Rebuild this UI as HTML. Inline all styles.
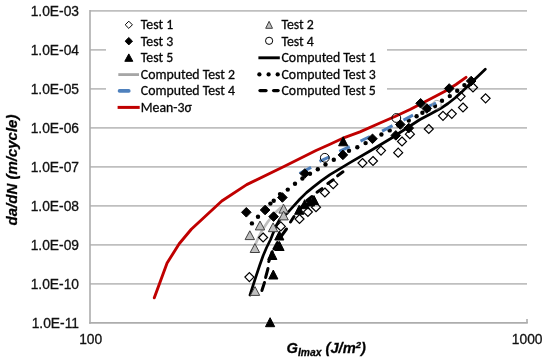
<!DOCTYPE html><html><head><meta charset="utf-8"><title>da/dN vs GImax</title><style>html,body{margin:0;padding:0;background:#fff;width:550px;height:362px;overflow:hidden}svg{display:block}text{font-family:"Liberation Sans",Arial,sans-serif;stroke:#111;stroke-width:0.3px}.lg{font-family:Carlito,"Liberation Sans",sans-serif;font-size:13.8px;fill:#000}</style></head><body>
<svg width="550" height="362" viewBox="0 0 550 362">
<line x1="90" y1="10.90" x2="527" y2="10.90" stroke="#BFBFBF" stroke-width="1.6"/>
<line x1="90" y1="49.90" x2="527" y2="49.90" stroke="#BFBFBF" stroke-width="1.6"/>
<line x1="90" y1="88.90" x2="527" y2="88.90" stroke="#BFBFBF" stroke-width="1.6"/>
<line x1="90" y1="127.90" x2="527" y2="127.90" stroke="#BFBFBF" stroke-width="1.6"/>
<line x1="90" y1="166.90" x2="527" y2="166.90" stroke="#BFBFBF" stroke-width="1.6"/>
<line x1="90" y1="205.90" x2="527" y2="205.90" stroke="#BFBFBF" stroke-width="1.6"/>
<line x1="90" y1="244.90" x2="527" y2="244.90" stroke="#BFBFBF" stroke-width="1.6"/>
<line x1="90" y1="283.90" x2="527" y2="283.90" stroke="#BFBFBF" stroke-width="1.6"/>
<line x1="90" y1="10.10" x2="90" y2="323.70" stroke="#ADADAD" stroke-width="1.6"/>
<line x1="89.2" y1="322.90" x2="527.8" y2="322.90" stroke="#ADADAD" stroke-width="1.6"/>
<line x1="527" y1="318.90" x2="527" y2="322.90" stroke="#ADADAD" stroke-width="1.6"/>
<text x="79" y="15.8" text-anchor="end" font-size="13.8" fill="#111">1.0E-03</text>
<text x="79" y="54.8" text-anchor="end" font-size="13.8" fill="#111">1.0E-04</text>
<text x="79" y="93.8" text-anchor="end" font-size="13.8" fill="#111">1.0E-05</text>
<text x="79" y="132.8" text-anchor="end" font-size="13.8" fill="#111">1.0E-06</text>
<text x="79" y="171.8" text-anchor="end" font-size="13.8" fill="#111">1.0E-07</text>
<text x="79" y="210.8" text-anchor="end" font-size="13.8" fill="#111">1.0E-08</text>
<text x="79" y="249.8" text-anchor="end" font-size="13.8" fill="#111">1.0E-09</text>
<text x="79" y="288.8" text-anchor="end" font-size="13.8" fill="#111">1.0E-10</text>
<text x="79" y="327.8" text-anchor="end" font-size="13.8" fill="#111">1.0E-11</text>
<text x="90.7" y="344" text-anchor="middle" font-size="13.8" fill="#111">100</text>
<text x="527.2" y="344" text-anchor="middle" font-size="13.8" fill="#111">1000</text>
<text transform="translate(17,170) rotate(-90)" text-anchor="middle" font-size="15" font-weight="bold" font-style="italic" fill="#000">da/dN (m/cycle)</text>
<text x="286.5" y="352.8" font-size="14.7" font-weight="bold" font-style="italic" fill="#000">G<tspan font-size="10.3" dy="3">Imax</tspan><tspan dy="-3" font-size="14.7"> (J/m</tspan><tspan font-size="9.5" dy="-5">2</tspan><tspan font-size="14.7" dy="5">)</tspan></text>
<rect x="106" y="13" width="281" height="104" fill="#fff"/>
<path d="M128.8 21.2L132.4 24.8L128.8 28.4L125.2 24.8Z" fill="#fff" stroke="#000" stroke-width="1"/>
<text class="lg" x="140.8" y="29.4" textLength="32.34" lengthAdjust="spacingAndGlyphs">Test 1</text>
<path d="M269.1 21.3L272.5 28.3L265.7 28.3Z" fill="#BFBFBF" stroke="#404040" stroke-width="1" stroke-linejoin="miter"/>
<text class="lg" x="281.5" y="29.4" textLength="32.34" lengthAdjust="spacingAndGlyphs">Test 2</text>
<path d="M128.8 37.5L132.5 41.2L128.8 44.9L125.1 41.2Z" fill="#000" stroke="#000" stroke-width="1"/>
<text class="lg" x="140.8" y="45.800000000000004" textLength="32.34" lengthAdjust="spacingAndGlyphs">Test 3</text>
<circle cx="269.1" cy="40.8" r="3.6" fill="#fff" stroke="#000" stroke-width="1"/>
<text class="lg" x="281.5" y="45.800000000000004" textLength="32.34" lengthAdjust="spacingAndGlyphs">Test 4</text>
<path d="M128.8 53.9L132.8 61.3L124.8 61.3Z" fill="#000" stroke="#000" stroke-width="1" stroke-linejoin="miter"/>
<text class="lg" x="140.8" y="62.2" textLength="32.34" lengthAdjust="spacingAndGlyphs">Test 5</text>
<line x1="258.4" y1="57.800000000000004" x2="279.8" y2="57.800000000000004" stroke="#000" stroke-width="2.9"/>
<text class="lg" x="281.5" y="62.2" textLength="94.2" lengthAdjust="spacingAndGlyphs">Computed Test 1</text>
<line x1="118.3" y1="74.6" x2="139" y2="74.6" stroke="#A6A6A6" stroke-width="2.8"/>
<text class="lg" x="140.8" y="78.69999999999999" textLength="94.2" lengthAdjust="spacingAndGlyphs">Computed Test 2</text>
<circle cx="259.4" cy="74.39999999999999" r="2.15" fill="#000"/>
<circle cx="268.6" cy="74.39999999999999" r="2.15" fill="#000"/>
<circle cx="277.7" cy="74.39999999999999" r="2.15" fill="#000"/>
<text class="lg" x="281.5" y="78.69999999999999" textLength="94.2" lengthAdjust="spacingAndGlyphs">Computed Test 3</text>
<line x1="119.5" y1="90.9" x2="128.8" y2="90.9" stroke="#4F81BD" stroke-width="3.6" stroke-linecap="round"/>
<text class="lg" x="140.8" y="95.1" textLength="94.2" lengthAdjust="spacingAndGlyphs">Computed Test 4</text>
<line x1="260" y1="90.6" x2="266" y2="90.6" stroke="#000" stroke-width="3.3" stroke-linecap="round"/>
<line x1="273.6" y1="90.6" x2="278.1" y2="90.6" stroke="#000" stroke-width="3.3" stroke-linecap="round"/>
<text class="lg" x="281.5" y="95.1" textLength="94.2" lengthAdjust="spacingAndGlyphs">Computed Test 5</text>
<line x1="117.6" y1="107.4" x2="139.7" y2="107.4" stroke="#C00000" stroke-width="3"/>
<text class="lg" x="140.8" y="111.5" textLength="51.08" lengthAdjust="spacingAndGlyphs">Mean-3σ</text>
<polyline points="250.0,295.0 255.8,277.0 259.8,265.0 263.2,255.5 266.6,247.5 270.6,239.5 276.0,226.0 280.0,219.0 286.6,213.8 293.3,206.4 300.0,199.0 306.5,192.6 313.2,187.1 321.5,180.6 330.0,174.6 338.0,169.8 350.0,162.6 370.0,151.0 390.0,139.0 410.0,126.0 420.0,119.5 430.0,114.2 440.0,108.8 448.0,103.5 455.0,98.0 462.0,91.8 470.0,83.8 478.0,76.3 485.3,69.2" fill="none" stroke="#000" stroke-width="2.7" stroke-linejoin="round" stroke-linecap="round"/>
<polyline points="254.0,247.5 258.0,238.5 262.0,230.5 268.0,221.5 275.0,213.0 283.5,205.0" fill="none" stroke="#BFBFBF" stroke-width="2.7" stroke-linejoin="round"/>
<circle cx="251.9" cy="223.4" r="2.2" fill="#000"/>
<circle cx="258" cy="216.8" r="2.2" fill="#000"/>
<circle cx="264.2" cy="210.2" r="2.2" fill="#000"/>
<circle cx="270.4" cy="203.6" r="2.2" fill="#000"/>
<circle cx="273.7" cy="200.7" r="2.2" fill="#000"/>
<circle cx="280" cy="194.1" r="2.2" fill="#000"/>
<circle cx="287.8" cy="189.6" r="2.2" fill="#000"/>
<circle cx="295" cy="183.8" r="2.2" fill="#000"/>
<circle cx="302.4" cy="178.5" r="2.2" fill="#000"/>
<circle cx="310" cy="173.8" r="2.2" fill="#000"/>
<circle cx="317.8" cy="169.2" r="2.2" fill="#000"/>
<circle cx="325.5" cy="164.5" r="2.2" fill="#000"/>
<circle cx="333.8" cy="159.7" r="2.2" fill="#000"/>
<circle cx="341.5" cy="155" r="2.2" fill="#000"/>
<circle cx="349" cy="150.7" r="2.2" fill="#000"/>
<circle cx="357.3" cy="147.3" r="2.2" fill="#000"/>
<circle cx="365.6" cy="143.1" r="2.2" fill="#000"/>
<circle cx="373.5" cy="138.8" r="2.2" fill="#000"/>
<circle cx="381.4" cy="134.5" r="2.2" fill="#000"/>
<circle cx="389.7" cy="130.4" r="2.2" fill="#000"/>
<circle cx="398.5" cy="125.6" r="2.2" fill="#000"/>
<circle cx="408.8" cy="120.5" r="2.2" fill="#000"/>
<circle cx="416.6" cy="116.2" r="2.2" fill="#000"/>
<circle cx="422.4" cy="112.8" r="2.2" fill="#000"/>
<circle cx="428.7" cy="109.5" r="2.2" fill="#000"/>
<circle cx="435" cy="106" r="2.2" fill="#000"/>
<circle cx="442" cy="100.8" r="2.2" fill="#000"/>
<circle cx="449.8" cy="96.1" r="2.2" fill="#000"/>
<circle cx="457.2" cy="90.8" r="2.2" fill="#000"/>
<circle cx="464.4" cy="85.1" r="2.2" fill="#000"/>
<circle cx="471" cy="80.5" r="2.2" fill="#000"/>
<line x1="299.5" y1="173.5" x2="311.1" y2="167.4" stroke="#4F81BD" stroke-width="3"/>
<line x1="319.5" y1="161.3" x2="329.5" y2="156.8" stroke="#4F81BD" stroke-width="3"/>
<line x1="339.3" y1="151.4" x2="349.7" y2="146.6" stroke="#4F81BD" stroke-width="3"/>
<line x1="360.5" y1="141.2" x2="370" y2="136.5" stroke="#4F81BD" stroke-width="3"/>
<line x1="382.1" y1="131.1" x2="392.5" y2="125.6" stroke="#4F81BD" stroke-width="3"/>
<line x1="403.5" y1="120.2" x2="413" y2="115.2" stroke="#4F81BD" stroke-width="3"/>
<line x1="425" y1="107.8" x2="436" y2="103" stroke="#4F81BD" stroke-width="3"/>
<line x1="261.9" y1="290.5" x2="264.5" y2="282.5" stroke="#000" stroke-width="3" stroke-linecap="round"/>
<line x1="265.6" y1="277.5" x2="268" y2="268.5" stroke="#000" stroke-width="3" stroke-linecap="round"/>
<line x1="268.8" y1="261.5" x2="272" y2="252" stroke="#000" stroke-width="3" stroke-linecap="round"/>
<line x1="274" y1="249" x2="277.5" y2="242.5" stroke="#000" stroke-width="3" stroke-linecap="round"/>
<line x1="281" y1="236.5" x2="286.5" y2="229" stroke="#000" stroke-width="3" stroke-linecap="round"/>
<line x1="290.5" y1="222" x2="294" y2="216.5" stroke="#000" stroke-width="3" stroke-linecap="round"/>
<line x1="298" y1="211" x2="303" y2="205.5" stroke="#000" stroke-width="3" stroke-linecap="round"/>
<line x1="307" y1="200.5" x2="312" y2="196.5" stroke="#000" stroke-width="3" stroke-linecap="round"/>
<line x1="317" y1="192.2" x2="322" y2="188.6" stroke="#000" stroke-width="3" stroke-linecap="round"/>
<line x1="327.8" y1="183.4" x2="333.2" y2="179.8" stroke="#000" stroke-width="3" stroke-linecap="round"/>
<line x1="337.6" y1="175.8" x2="343" y2="171.8" stroke="#000" stroke-width="3" stroke-linecap="round"/>
<polyline points="154.3,297.8 167.1,263.0 179.2,243.8 191.3,229.2 221.8,201.0 246.7,184.6 285.0,166.0 305.0,156.0 316.0,150.5 330.0,144.2 345.0,137.3 360.0,131.8 380.0,123.0 395.0,116.5 410.0,109.5 425.0,101.7 436.0,96.0 446.0,90.7 456.0,84.5 466.0,77.4" fill="none" stroke="#C00000" stroke-width="2.9" stroke-linejoin="round" stroke-linecap="round"/>
<path d="M249.4 272.6L253.9 277.1L249.4 281.6L244.9 277.1Z" fill="none" stroke="#000" stroke-width="1.2"/>
<path d="M263.1 233.0L267.6 237.5L263.1 242.0L258.6 237.5Z" fill="none" stroke="#000" stroke-width="1.2"/>
<path d="M280.8 221.9L285.3 226.4L280.8 230.9L276.3 226.4Z" fill="none" stroke="#000" stroke-width="1.2"/>
<path d="M299.5 214.5L304.0 219.0L299.5 223.5L295.0 219.0Z" fill="none" stroke="#000" stroke-width="1.2"/>
<path d="M307.9 207.5L312.4 212.0L307.9 216.5L303.4 212.0Z" fill="none" stroke="#000" stroke-width="1.2"/>
<path d="M316.0 202.7L320.5 207.2L316.0 211.7L311.5 207.2Z" fill="none" stroke="#000" stroke-width="1.2"/>
<path d="M324.9 188.0L329.4 192.5L324.9 197.0L320.4 192.5Z" fill="none" stroke="#000" stroke-width="1.2"/>
<path d="M333.2 179.7L337.7 184.2L333.2 188.7L328.7 184.2Z" fill="none" stroke="#000" stroke-width="1.2"/>
<path d="M362.5 158.5L367.0 163.0L362.5 167.5L358.0 163.0Z" fill="none" stroke="#000" stroke-width="1.2"/>
<path d="M373.0 156.5L377.5 161.0L373.0 165.5L368.5 161.0Z" fill="none" stroke="#000" stroke-width="1.2"/>
<path d="M381.0 146.1L385.5 150.6L381.0 155.1L376.5 150.6Z" fill="none" stroke="#000" stroke-width="1.2"/>
<path d="M398.2 148.2L402.7 152.7L398.2 157.2L393.7 152.7Z" fill="none" stroke="#000" stroke-width="1.2"/>
<path d="M402.0 137.0L406.5 141.5L402.0 146.0L397.5 141.5Z" fill="none" stroke="#000" stroke-width="1.2"/>
<path d="M409.9 129.7L414.4 134.2L409.9 138.7L405.4 134.2Z" fill="none" stroke="#000" stroke-width="1.2"/>
<path d="M428.8 124.5L433.3 129.0L428.8 133.5L424.3 129.0Z" fill="none" stroke="#000" stroke-width="1.2"/>
<path d="M443.0 111.3L447.5 115.8L443.0 120.3L438.5 115.8Z" fill="none" stroke="#000" stroke-width="1.2"/>
<path d="M451.8 109.3L456.3 113.8L451.8 118.3L447.3 113.8Z" fill="none" stroke="#000" stroke-width="1.2"/>
<path d="M460.6 91.8L465.1 96.3L460.6 100.8L456.1 96.3Z" fill="none" stroke="#000" stroke-width="1.2"/>
<path d="M463.0 103.0L467.5 107.5L463.0 112.0L458.5 107.5Z" fill="none" stroke="#000" stroke-width="1.2"/>
<path d="M473.0 83.0L477.5 87.5L473.0 92.0L468.5 87.5Z" fill="none" stroke="#000" stroke-width="1.2"/>
<path d="M485.6 93.8L490.1 98.3L485.6 102.8L481.1 98.3Z" fill="none" stroke="#000" stroke-width="1.2"/>
<path d="M260.0 221.1L264.7 229.9L255.3 229.9Z" fill="#BFBFBF" stroke="#404040" stroke-width="1" stroke-linejoin="miter"/>
<path d="M249.8 230.8L254.5 239.6L245.1 239.6Z" fill="#BFBFBF" stroke="#404040" stroke-width="1" stroke-linejoin="miter"/>
<path d="M254.9 243.7L259.6 252.5L250.2 252.5Z" fill="#BFBFBF" stroke="#404040" stroke-width="1" stroke-linejoin="miter"/>
<path d="M255.0 286.6L259.7 295.4L250.3 295.4Z" fill="#BFBFBF" stroke="#404040" stroke-width="1" stroke-linejoin="miter"/>
<path d="M273.1 222.9L277.8 231.7L268.4 231.7Z" fill="#BFBFBF" stroke="#404040" stroke-width="1" stroke-linejoin="miter"/>
<path d="M283.6 204.3L288.3 213.1L278.9 213.1Z" fill="#BFBFBF" stroke="#404040" stroke-width="1" stroke-linejoin="miter"/>
<path d="M283.6 211.1L288.3 219.9L278.9 219.9Z" fill="#BFBFBF" stroke="#404040" stroke-width="1" stroke-linejoin="miter"/>
<path d="M246.3 207.5L251.1 212.3L246.3 217.1L241.5 212.3Z" fill="#000" stroke="#000" stroke-width="1"/>
<path d="M265.1 205.2L269.9 210.0L265.1 214.8L260.3 210.0Z" fill="#000" stroke="#000" stroke-width="1"/>
<path d="M273.6 211.8L278.4 216.6L273.6 221.4L268.8 216.6Z" fill="#000" stroke="#000" stroke-width="1"/>
<path d="M282.4 192.7L287.2 197.5L282.4 202.3L277.6 197.5Z" fill="#000" stroke="#000" stroke-width="1"/>
<path d="M304.8 168.7L309.6 173.5L304.8 178.3L300.0 173.5Z" fill="#000" stroke="#000" stroke-width="1"/>
<path d="M342.9 150.1L347.7 154.9L342.9 159.7L338.1 154.9Z" fill="#000" stroke="#000" stroke-width="1"/>
<path d="M372.5 134.0L377.3 138.8L372.5 143.6L367.7 138.8Z" fill="#000" stroke="#000" stroke-width="1"/>
<path d="M395.8 130.6L400.6 135.4L395.8 140.2L391.0 135.4Z" fill="#000" stroke="#000" stroke-width="1"/>
<path d="M400.3 119.7L405.1 124.5L400.3 129.3L395.5 124.5Z" fill="#000" stroke="#000" stroke-width="1"/>
<path d="M408.8 123.3L413.6 128.1L408.8 132.9L404.0 128.1Z" fill="#000" stroke="#000" stroke-width="1"/>
<path d="M420.6 98.5L425.4 103.3L420.6 108.1L415.8 103.3Z" fill="#000" stroke="#000" stroke-width="1"/>
<path d="M426.8 103.7L431.6 108.5L426.8 113.3L422.0 108.5Z" fill="#000" stroke="#000" stroke-width="1"/>
<path d="M449.2 83.7L454.0 88.5L449.2 93.3L444.4 88.5Z" fill="#000" stroke="#000" stroke-width="1"/>
<path d="M471.2 76.2L476.0 81.0L471.2 85.8L466.4 81.0Z" fill="#000" stroke="#000" stroke-width="1"/>
<circle cx="324.8" cy="157.8" r="4.4" fill="none" stroke="#000" stroke-width="1"/>
<circle cx="396.3" cy="118.0" r="4.4" fill="none" stroke="#000" stroke-width="1"/>
<circle cx="436.8" cy="104.8" r="4.4" fill="none" stroke="#999" stroke-width="0.8"/>
<path d="M343.2 136.8L347.8 145.8L338.6 145.8Z" fill="#000" stroke="#000" stroke-width="1" stroke-linejoin="miter"/>
<path d="M270.1 317.7L274.7 326.7L265.5 326.7Z" fill="#000" stroke="#000" stroke-width="1" stroke-linejoin="miter"/>
<path d="M273.3 270.0L277.9 279.0L268.7 279.0Z" fill="#000" stroke="#000" stroke-width="1" stroke-linejoin="miter"/>
<path d="M272.3 250.5L276.9 259.5L267.7 259.5Z" fill="#000" stroke="#000" stroke-width="1" stroke-linejoin="miter"/>
<path d="M279.5 241.5L284.1 250.5L274.9 250.5Z" fill="#000" stroke="#000" stroke-width="1" stroke-linejoin="miter"/>
<path d="M279.3 231.0L283.9 240.0L274.7 240.0Z" fill="#000" stroke="#000" stroke-width="1" stroke-linejoin="miter"/>
<path d="M299.2 205.3L303.8 214.3L294.6 214.3Z" fill="#000" stroke="#000" stroke-width="1" stroke-linejoin="miter"/>
<path d="M304.7 199.7L309.3 208.7L300.1 208.7Z" fill="#000" stroke="#000" stroke-width="1" stroke-linejoin="miter"/>
<path d="M310.0 197.0L314.6 206.0L305.4 206.0Z" fill="#000" stroke="#000" stroke-width="1" stroke-linejoin="miter"/>
<path d="M314.0 195.6L318.6 204.6L309.4 204.6Z" fill="#000" stroke="#000" stroke-width="1" stroke-linejoin="miter"/>
</svg></body></html>
